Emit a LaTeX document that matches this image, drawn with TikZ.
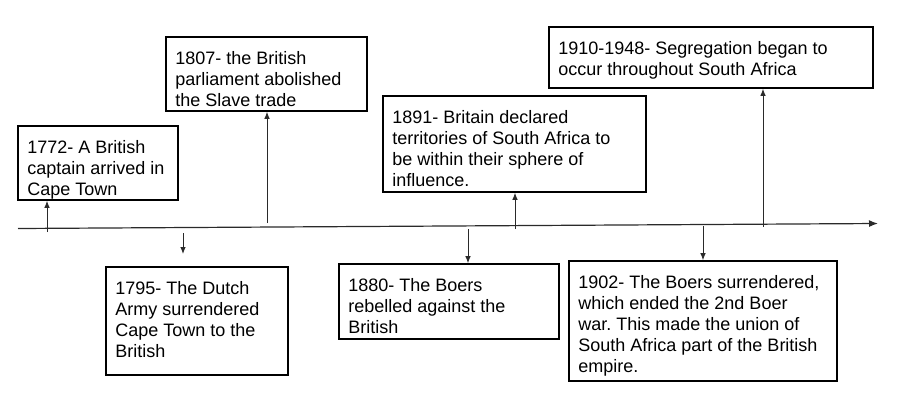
\documentclass[tikz,border=0pt]{standalone}
\usepackage{fontspec}
\setmainfont{Liberation Sans}
\usetikzlibrary{arrows.meta}
\frenchspacing
\definecolor{lineg}{HTML}{2A2A2A}
\tikzset{
  box/.style={draw=black, line width=1.6pt, rectangle, inner sep=0pt, fill=white},
  txt/.style={anchor=north west, inner sep=0pt, xshift=10pt, yshift=-15pt, align=left,
     font=\fontsize{18}{21}\selectfont\frenchspacing, text=black},
  conn/.style={draw=lineg, line width=0.9pt, -{Latex[length=7pt,width=5.5pt]}},
  axisline/.style={draw=lineg, line width=1.2pt, -{Latex[length=9pt,width=7pt]}}
}
\begin{document}
\begin{tikzpicture}[x=1pt,y=-1pt]
\useasboundingbox (0,0) rectangle (915,400);

% axis
\coordinate (axL) at (18,228.5);
\coordinate (axR) at (878,223.5);
\draw[axisline] (axL) -- (axR);

% boxes
\node[box, minimum width=160pt, minimum height=74pt,
  label={[txt]north west:{1772- A British\\captain arrived in\\Cape Town}}] (b1772) at (98,163) {};
\node[box, minimum width=201pt, minimum height=74pt,
  label={[txt]north west:{1807- the British\\parliament abolished\\the Slave trade}}] (b1807) at (266.5,74) {};
\node[box, minimum width=182pt, minimum height=108pt,
  label={[txt]north west:{1795- The Dutch\\Army surrendered\\Cape Town to the\\British}}] (b1795) at (197,321) {};
\node[box, minimum width=220pt, minimum height=75pt,
  label={[txt]north west:{1880- The Boers\\rebelled against the\\British}}] (b1880) at (449,301.5) {};
\node[box, minimum width=263pt, minimum height=96pt,
  label={[txt]north west:{1891- Britain declared\\territories of South Africa to\\be within their sphere of\\influence.}}] (b1891) at (514.5,144) {};
\node[box, minimum width=268pt, minimum height=120pt,
  label={[txt]north west:{1902- The Boers surrendered,\\which ended the 2nd Boer\\war. This made the union of\\South Africa part of the British\\empire.}}] (b1902) at (703,321) {};
\node[box, minimum width=324pt, minimum height=61pt,
  label={[txt]north west:{1910-1948- Segregation began to\\occur throughout South Africa}}] (b1910) at (711,57.5) {};

% connectors
\coordinate (a1772) at (47,232);
\draw[conn] (a1772) -- (a1772 |- b1772.south);
\coordinate (a1807) at (267,223);
\draw[conn] (a1807) -- (a1807 |- b1807.south);
\coordinate (a1795s) at (183,233);
\coordinate (a1795e) at (183,254);
\draw[conn] (a1795s) -- (a1795e);
\coordinate (a1880) at (468,229);
\draw[conn] (a1880) -- (a1880 |- b1880.north);
\coordinate (a1891) at (515,229);
\draw[conn] (a1891) -- (a1891 |- b1891.south);
\coordinate (a1902) at (703,226);
\draw[conn] (a1902) -- (a1902 |- b1902.north);
\coordinate (a1910) at (763,227);
\draw[conn] (a1910) -- (a1910 |- b1910.south);
\end{tikzpicture}
\end{document}
